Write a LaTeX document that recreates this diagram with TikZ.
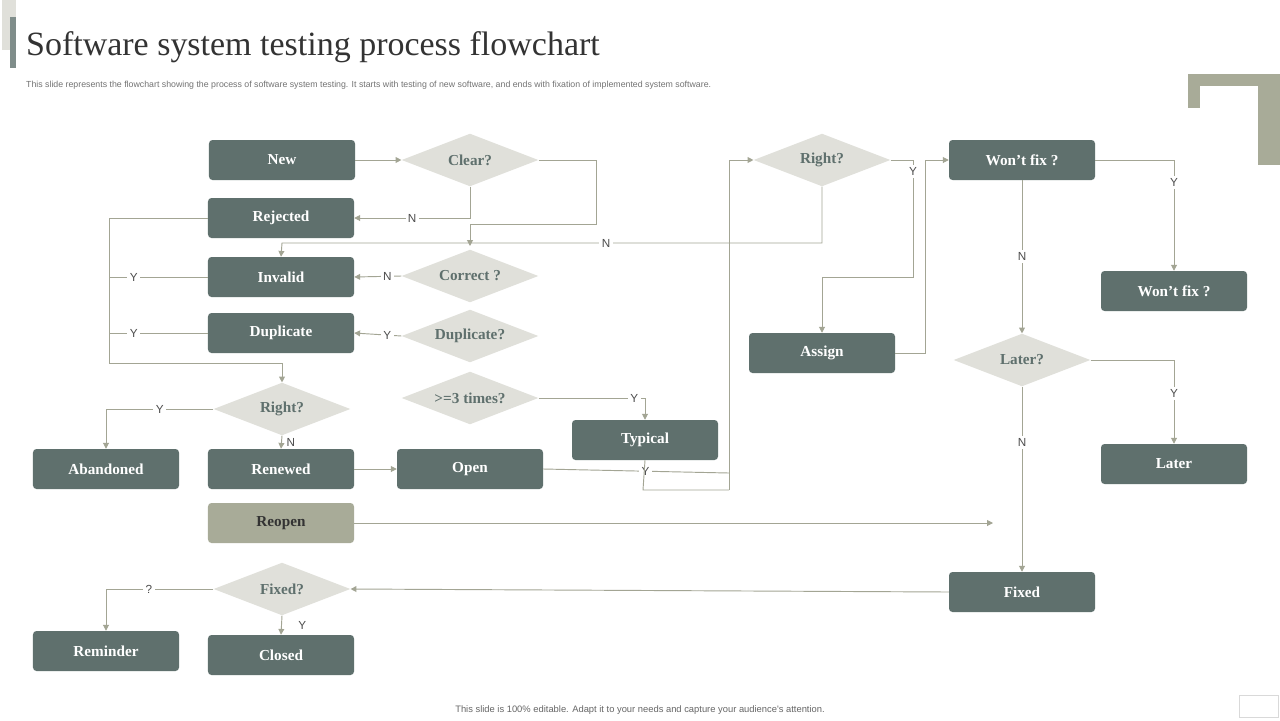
\documentclass[tikz,border=0pt]{standalone}
\usepackage{fontspec}
\setmainfont{Liberation Serif}
\newfontfamily\lblfont{Liberation Sans}
\usetikzlibrary{shapes.geometric}
\usetikzlibrary{arrows.meta}
\definecolor{boxgray}{HTML}{5F706D}
\definecolor{diagray}{HTML}{E0E0DA}
\definecolor{linegray}{HTML}{A3A594}
\definecolor{olive}{HTML}{A8AB98}
\definecolor{titlegray}{HTML}{333333}
\begin{document}
\begin{tikzpicture}[x=0.03cm,y=-0.03cm,
  stage/.style={rectangle,rounded corners=3pt,fill=boxgray,text=white,font=\fontsize{13}{13}\selectfont\bfseries,minimum width=4.38cm,minimum height=1.2cm,inner sep=0pt},
  ask/.style={diamond,aspect=2.6,fill=diagray,text=boxgray,font=\fontsize{13}{13}\selectfont\bfseries,minimum width=4.1cm,minimum height=1.58cm,inner sep=0pt},
  link/.style={draw=linegray,line width=0.8pt},
  go/.style={link,-{Triangle[length=5pt,width=5pt]}},
  yn/.style={fill=white,text=black!70,font=\lblfont\fontsize{10}{10}\selectfont,inner sep=2pt}]
\useasboundingbox (0,0) rectangle (1280,720);
\fill[white] (0,0) rectangle (1280,720);
% decoration
\fill[diagray] (2,0) rectangle (16,50);
\fill[boxgray!80] (10,17) rectangle (16,68);
\fill[olive] (1188,74) rectangle (1280,86);
\fill[olive] (1188,86) rectangle (1200,108);
\fill[olive] (1258,86) rectangle (1280,165);
\draw[black!15] (1239,695) rectangle (1278,717);
\node[anchor=west,text=titlegray,font=\fontsize{29}{29}\selectfont] (title) at (22,47) {Software system testing process flowchart};
\node[anchor=west,text=black!55,font=\lblfont\fontsize{7.5}{7.5}\selectfont] (sub) at (22,85) {This slide represents the flowchart showing the process of software system testing. It starts with testing of new software, and ends with fixation of implemented system software.};
\node[text=black!60,font=\lblfont\fontsize{8}{8}\selectfont] (foot) at (640,710) {This slide is 100\% editable. Adapt it to your needs and capture your audience's attention.};

% boxes
\node[stage] (new) at (282,160) {New};
\node[stage] (rejected) at (281,218) {Rejected};
\node[stage] (invalid) at (281,277) {Invalid};
\node[stage] (duplicate) at (281,333) {Duplicate};
\node[stage] (abandoned) at (106,469) {Abandoned};
\node[stage] (renewed) at (281,469) {Renewed};
\node[stage] (open) at (470,469) {Open};
\node[stage,fill=olive,text=titlegray] (reopen) at (281,523) {Reopen};
\node[stage] (reminder) at (106,651) {Reminder};
\node[stage] (closed) at (281,655) {Closed};
\node[stage] (typical) at (645,440) {Typical};
\node[stage] (assign) at (822,353) {Assign};
\node[stage] (wontfix) at (1022,160) {Won’t fix ?};
\node[stage] (wontfixb) at (1174,291) {Won’t fix ?};
\node[stage] (later) at (1174,464) {Later};
\node[stage] (fixed) at (1022,592) {Fixed};

% decisions
\node[ask] (clear) at (470,160) {Clear?};
\node[ask] (correct) at (470,276) {Correct ?};
\node[ask] (dupq) at (470,336) {Duplicate?};
\node[ask] (times) at (470,398) {>=3 times?};
\node[ask] (rightl) at (282,409) {Right?};
\node[ask] (rightr) at (822,160) {Right?};
\node[ask] (laterq) at (1022,360) {Later?};
\node[ask] (fixedq) at (282,589) {Fixed?};
\coordinate (reopenend) at (993,523);

% connectors
\draw[go] (new) -- (clear);
\draw[go] (clear.south) |- node[yn,pos=0.75] {N} (rejected.east);
\draw[go] (clear.east) -| (596,224) -| (470,246);
\draw[go] (rightr.south) |- node[yn,pos=0.7] {N} (282,243) -- (invalid.north);
\draw[go] (correct.west) -- node[yn,pos=0.3] {N} (invalid.east);
\draw[link] (rejected.west) -| (109,363);
\draw[go] (109,363) -| (rightl.north);
\draw[link] (invalid.west) -- node[yn,pos=0.75] {Y} (109,277);
\draw[link] (duplicate.west) -- node[yn,pos=0.75] {Y} (109,333);
\draw[go] (dupq.west) -- node[yn,pos=0.3] {Y} (duplicate.east);
\draw[go] (times.east) -| node[yn,pos=0.45] {Y} (typical.north);
\draw[go] (rightl.west) -| node[yn,pos=0.25] {Y} (abandoned.north);
\draw[go] (rightl.south) -- node[yn,right,fill=none,xshift=2pt] {N} (renewed.north);
\draw[go] (renewed) -- (open);
\draw[link] (open.east) -- node[yn,pos=0.55] {Y} (729,473);
\draw[link] (typical.south) -- (643,490) -- (729,490);
\draw[go] (729,490) |- (rightr.west);
\draw[go] (rightr.east) -| node[yn,pos=0.55] {Y} (913,277) -| (assign.north);
\draw[go] (assign.east) -| (925,160) -- (wontfix.west);
\draw[go] (wontfix.east) -| node[yn,pos=0.6] {Y} (wontfixb.north);
\draw[go] (wontfix.south) -- node[yn,pos=0.5] {N} (laterq.north);
\draw[go] (laterq.east) -| node[yn,pos=0.7] {Y} (later.north);
\draw[go] (laterq.south) -- node[yn,pos=0.3] {N} (fixed.north);
\draw[go] (reopen.east) -- (reopenend);
\draw[go] (fixed.west) -- (fixedq.east);
\draw[go] (fixedq.west) -| node[yn,pos=0.3] {?} (reminder.north);
\draw[go] (fixedq.south) -- node[yn,right,fill=none,xshift=12pt] {Y} (closed.north);
\end{tikzpicture}
\end{document}
